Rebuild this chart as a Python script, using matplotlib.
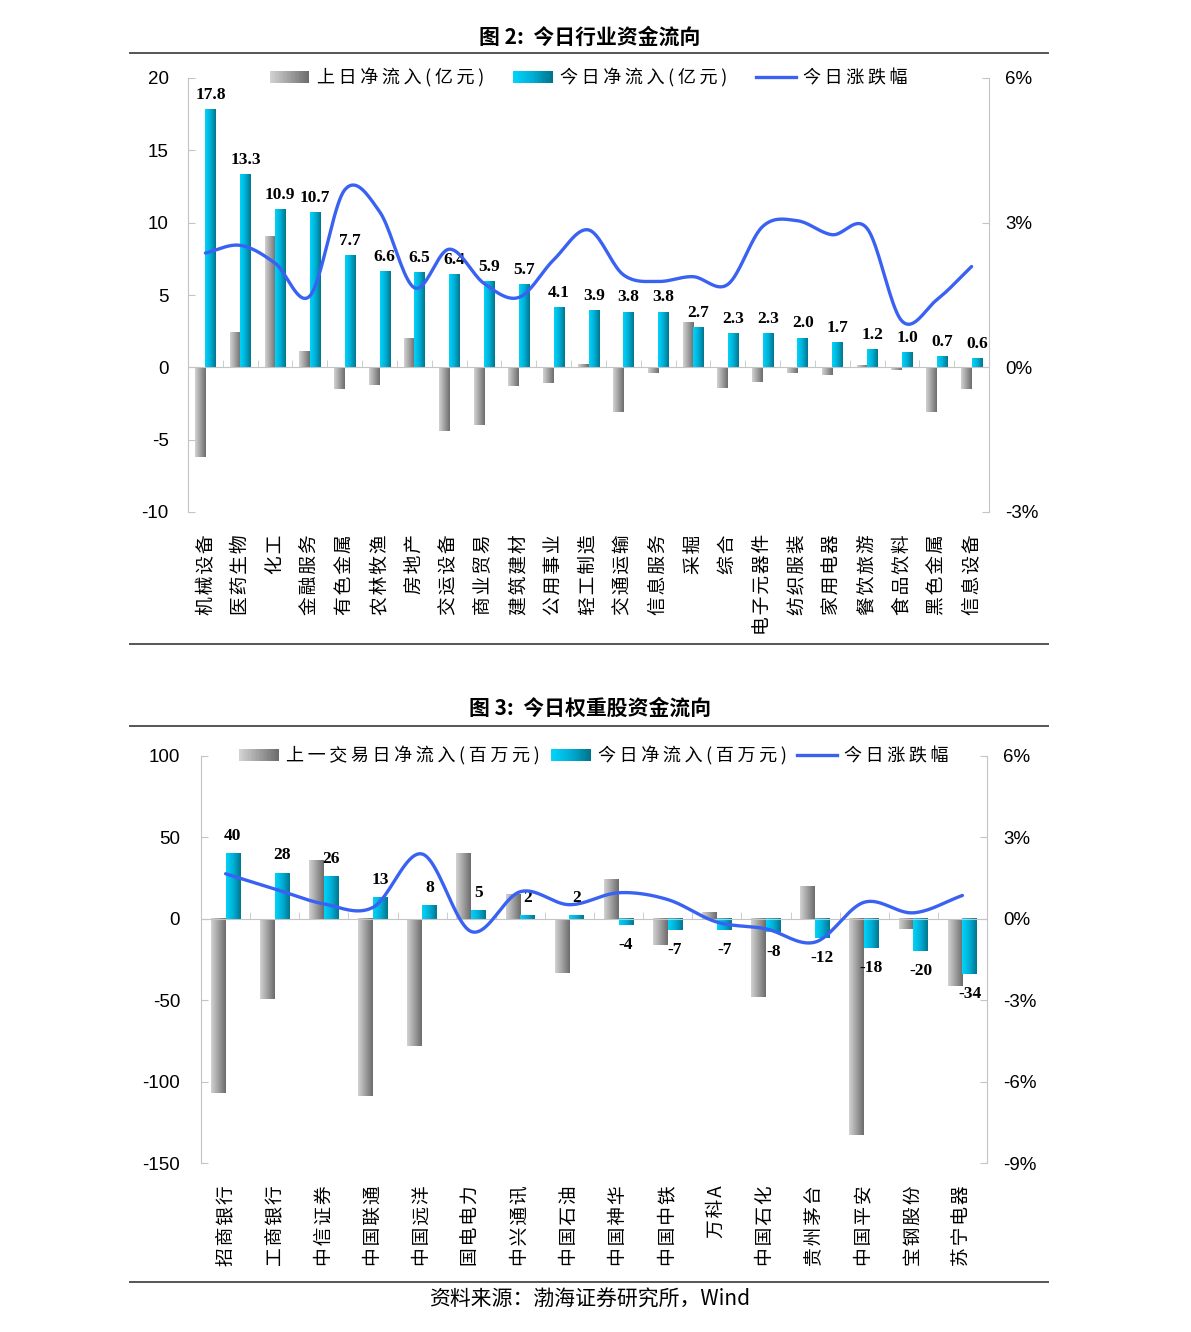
import numpy as np
import matplotlib
matplotlib.use('Agg')
import matplotlib.pyplot as plt
from matplotlib.colors import LinearSegmentedColormap
from matplotlib.patches import Rectangle
from matplotlib.lines import Line2D
from matplotlib.legend_handler import HandlerBase
from matplotlib.ticker import FuncFormatter

CJK = ['Noto Sans CJK SC', 'DejaVu Sans']
plt.rcParams['font.family'] = CJK
plt.rcParams['axes.unicode_minus'] = False

# ---- 图2 data: 行业资金流向
ind_names = ['机械设备', '医药生物', '化工', '金融服务', '有色金属', '农林牧渔', '房地产',
             '交运设备', '商业贸易', '建筑建材', '公用事业', '轻工制造', '交通运输', '信息服务',
             '采掘', '综合', '电子元器件', '纺织服装', '家用电器', '餐饮旅游', '食品饮料',
             '黑色金属', '信息设备']
ind_prev = [-6.2, 2.4, 9.0, 1.1, -1.5, -1.2, 2.0, -4.4, -4.0, -1.3, -1.1, 0.2,
            -3.1, -0.4, 3.1, -1.4, -1.0, -0.4, -0.5, 0.1, -0.2, -3.1, -1.5]
ind_today = [17.8, 13.3, 10.9, 10.7, 7.7, 6.6, 6.5, 6.4, 5.9, 5.7, 4.1, 3.9,
             3.8, 3.8, 2.7, 2.3, 2.3, 2.0, 1.7, 1.2, 1.0, 0.7, 0.6]
ind_chg = [2.37, 2.53, 2.16, 1.48, 3.68, 3.23, 1.65, 2.45, 1.74, 1.45, 2.23, 2.85,
           1.92, 1.78, 1.88, 1.72, 2.92, 3.04, 2.75, 2.88, 0.96, 1.40, 2.09]

# ---- 图3 data: 权重股资金流向
stk_names = ['招商银行', '工商银行', '中信证券', '中国联通', '中国远洋', '国电电力', '中兴通讯',
             '中国石油', '中国神华', '中国中铁', '万科A', '中国石化', '贵州茅台', '中国平安',
             '宝钢股份', '苏宁电器']
stk_prev = [-107, -49, 36, -109, -78, 40, 15, -33, 24, -16, 4, -48, 20, -133, -6.5, -41]
stk_today = [40, 28, 26, 13, 8, 5, 2, 2, -4, -7, -7, -8, -12, -18, -20, -34]
stk_chg = [1.66, 1.10, 0.55, 0.42, 2.39, -0.47, 1.00, 0.52, 0.96, 0.71, -0.12, -0.37,
           -0.86, 0.61, 0.22, 0.86]

grey_cmap = LinearSegmentedColormap.from_list('g', ['#d2d2d2', '#a0a0a0', '#6c6c6c'])
cyan_cmap = LinearSegmentedColormap.from_list('c', ['#00d4fa', '#00aed6', '#00768e'])
LINE_C = '#3a62f2'
SPINE_C = '#c4c4c4'
ramp = np.linspace(0, 1, 64).reshape(1, -1)


def spaced(s, gap='\u2009'):
    # the original uses loosely tracked characters
    return gap.join(s)


class GradHandler(HandlerBase):
    def __init__(self, cmap):
        super().__init__()
        self.cmap = cmap

    def create_artists(self, legend, orig, xd, yd, width, height, fontsize, trans):
        n = 30
        out = []
        for i in range(n):
            out.append(Rectangle((-xd + width * i / n, -yd), width / n * 1.05, height,
                                 facecolor=self.cmap(i / (n - 1)), edgecolor='none',
                                 transform=trans))
        return out


def grad_bars(ax, bars, cmap):
    for b in bars:
        x0, y0, w, h = b.get_x(), b.get_y(), b.get_width(), b.get_height()
        b.set_visible(False)
        ax.imshow(ramp, cmap=cmap, aspect='auto', interpolation='bilinear',
                  extent=[x0, x0 + w, min(y0, y0 + h), max(y0, y0 + h)], zorder=2)


def smooth(xs, ys, n=20):
    x = np.asarray(xs, float)
    y = np.asarray(ys, float)
    px = np.concatenate([[2 * x[0] - x[1]], x, [2 * x[-1] - x[-2]]])
    py = np.concatenate([[2 * y[0] - y[1]], y, [2 * y[-1] - y[-2]]])
    t = np.linspace(0, 1, n, endpoint=False)
    ox, oy = [], []
    for i in range(1, len(px) - 2):
        for arr, out in ((px, ox), (py, oy)):
            p0, p1, p2, p3 = arr[i - 1], arr[i], arr[i + 1], arr[i + 2]
            out.extend(0.5 * ((2 * p1) + (-p0 + p2) * t + (2 * p0 - 5 * p1 + 4 * p2 - p3) * t ** 2
                              + (-p0 + 3 * p1 - 3 * p2 + p3) * t ** 3))
    ox.append(x[-1])
    oy.append(y[-1])
    return ox, oy


def draw_panel(ax, names, prev, today, chg, ylim, yticks, pct_lim, pct_ticks,
               labels, fmt, lpad, rpad, lab_pos, lab_neg, colsp):
    n = len(names)
    x = np.arange(n)
    w = 0.3
    b1 = ax.bar(x - w / 2, prev, w)
    b2 = ax.bar(x + w / 2, today, w)
    grad_bars(ax, b1, grey_cmap)
    grad_bars(ax, b2, cyan_cmap)
    for xi, v in zip(x, today):
        if v >= 0:
            ax.annotate(fmt.format(v), (xi + w / 2, v), xytext=(0, lab_pos), textcoords='offset points',
                        ha='center', va='bottom', fontfamily='Liberation Serif',
                        fontweight='bold', fontsize=12.5, zorder=5)
        else:
            ax.annotate(fmt.format(v), (xi + w / 2, v), xytext=(0, -lab_neg), textcoords='offset points',
                        ha='center', va='top', fontfamily='Liberation Serif',
                        fontweight='bold', fontsize=12.5, zorder=5)
    for xi, name in zip(x, names):
        ax.annotate(spaced(name, '\u200a'), (xi, 0), xycoords=('data', 'axes fraction'),
                    xytext=(0, -16), textcoords='offset points', rotation=90,
                    ha='center', va='top', fontsize=13.5, family=CJK)
    ax.set_xlim(-0.5, n - 0.5)
    ax.set_ylim(*ylim)
    ax.set_yticks(yticks)
    ax.set_xticks([])
    ax.set_xticks(np.arange(0.5, n - 1), minor=True)
    ax.spines['bottom'].set_position(('data', 0))
    ax.spines['bottom'].set_color(SPINE_C)
    ax.spines['top'].set_visible(False)
    ax.spines['right'].set_visible(False)
    ax.spines['left'].set_color(SPINE_C)
    ax.tick_params(axis='x', which='minor', direction='in', length=5, color=SPINE_C)
    ax.tick_params(axis='y', direction='in', length=5, color=SPINE_C, pad=lpad,
                   labelsize=13.5, labelfontfamily='Liberation Sans')

    ax2 = ax.twinx()
    lx, ly = smooth(x, chg)
    ax2.plot(lx, ly, color=LINE_C, lw=2.4, zorder=4, solid_capstyle='round')
    ax2.set_ylim(*pct_lim)
    ax2.set_yticks(pct_ticks)
    ax2.yaxis.set_major_formatter(FuncFormatter(lambda v, p: f'{v:.0f}%'))
    for s in ('top', 'left', 'bottom'):
        ax2.spines[s].set_visible(False)
    ax2.spines['right'].set_color(SPINE_C)
    ax2.tick_params(axis='y', direction='in', length=5, color=SPINE_C, pad=rpad,
                    labelsize=13.5, labelfontfamily='Liberation Sans')

    h1 = Rectangle((0, 0), 1, 1)
    h2 = Rectangle((0, 0), 1, 1)
    h3 = Line2D([], [], color=LINE_C, lw=2.4)
    ax2.legend([h1, h2, h3], [spaced(s) for s in labels], loc='center', bbox_to_anchor=(0.5, 1.0),
               ncol=3, frameon=False,
               handler_map={h1: GradHandler(grey_cmap), h2: GradHandler(cyan_cmap)},
               prop={'family': CJK, 'size': 13}, handlelength=2.2, handleheight=0.65,
               handletextpad=0.4, columnspacing=colsp)
    return ax2


fig = plt.figure(figsize=(11.91, 13.32), dpi=100)
W, H = 1191, 1332


def fy(px):
    return 1 - px / H


# panel 1
ax_a = fig.add_axes([188 / W, fy(512), (989 - 188) / W, (512 - 78) / H])
draw_panel(ax_a, ind_names, ind_prev, ind_today, ind_chg, (-10, 20), [-10, -5, 0, 5, 10, 15, 20],
           (-3, 6), [-3, 0, 3, 6], ['上日净流入(亿元)', '今日净流入(亿元)', '今日涨跌幅'],
           '{:.1f}', 14, 11.5, 5, 6, 1.6)

# panel 2
ax_b = fig.add_axes([201 / W, fy(1163), (987 - 201) / W, (1163 - 756) / H])
draw_panel(ax_b, stk_names, stk_prev, stk_today, stk_chg, (-150, 100), [-150, -100, -50, 0, 50, 100],
           (-9, 6), [-9, -6, -3, 0, 3, 6], ['上一交易日净流入(百万元)', '今日净流入(百万元)', '今日涨跌幅'],
           '{:.0f}', 15, 11.5, 7, 8.5, 0.6)

# titles, rules and source
for ypx in (53, 644, 726, 1282):
    fig.add_artist(Line2D([130 / W, 1048 / W], [fy(ypx), fy(ypx)], color='#555555', lw=1.4))
fig.text(590 / W, fy(37), '图 2:  今日行业资金流向', ha='center', va='center',
         fontsize=15, fontweight='bold', family=CJK)
fig.text(590 / W, fy(708), '图 3:  今日权重股资金流向', ha='center', va='center',
         fontsize=15, fontweight='bold', family=CJK)
fig.text(590 / W, fy(1300), '资料来源：渤海证券研究所，Wind', ha='center', va='center',
         fontsize=15, family=CJK)

fig.savefig('out.png', dpi=100)
